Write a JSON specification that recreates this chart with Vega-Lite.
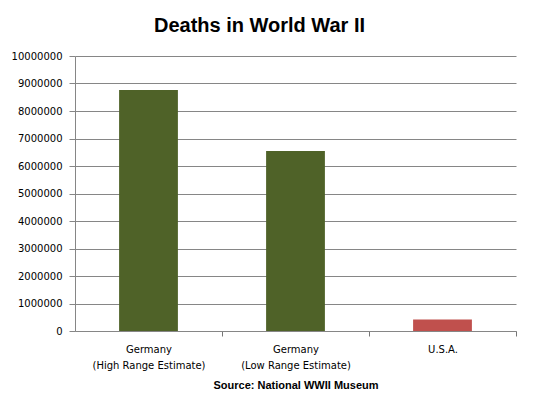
{
  "$schema": "https://vega.github.io/schema/vega-lite/v6.json",
  "autosize": "none",
  "width": 441,
  "height": 275,
  "padding": {"left": 75, "top": 56, "right": 17, "bottom": 81},
  "background": "white",
  "title": {
    "text": "Deaths in World War II",
    "font": "Liberation Sans",
    "fontSize": 20,
    "fontWeight": "bold",
    "color": "black",
    "anchor": "middle",
    "dx": -36,
    "offset": 15
  },
  "data": {
    "values": [
      {"country": "Germany|(High Range Estimate)", "deaths": 8760000, "group": "Germany"},
      {"country": "Germany|(Low Range Estimate)", "deaths": 6550000, "group": "Germany"},
      {"country": "U.S.A.", "deaths": 418500, "group": "U.S.A."}
    ]
  },
  "mark": "bar",
  "encoding": {
    "x": {
      "field": "country",
      "type": "nominal",
      "sort": null,
      "scale": {"paddingInner": 0.6, "paddingOuter": 0.3},
      "axis": {
        "title": "Source: National WWII Museum",
        "titleFont": "Liberation Sans",
        "titleFontSize": 11,
        "titleFontWeight": "bold",
        "titleColor": "black",
        "titlePadding": 9,
        "labelAngle": 0,
        "labelExpr": "split(datum.label, '|')",
        "labelFont": "DejaVu Sans",
        "labelFontSize": 10,
        "labelColor": "black",
        "labelLineHeight": 16.5,
        "labelPadding": 8,
        "tickOffset": 73.5,
        "labelOffset": -73.5,
        "tickSize": 5,
        "tickWidth": 1,
        "tickColor": "#767676",
        "domainColor": "#868686",
        "grid": false
      }
    },
    "y": {
      "field": "deaths",
      "type": "quantitative",
      "scale": {"domain": [0, 10000000]},
      "axis": {
        "title": null,
        "values": [0, 1000000, 2000000, 3000000, 4000000, 5000000, 6000000, 7000000, 8000000, 9000000, 10000000],
        "format": "d",
        "labelFont": "DejaVu Sans",
        "labelFontSize": 10,
        "labelColor": "black",
        "labelPadding": 7,
        "tickSize": 6,
        "tickColor": "#868686",
        "domainColor": "#868686",
        "grid": true,
        "gridColor": "#868686"
      }
    },
    "color": {
      "field": "group",
      "type": "nominal",
      "scale": {"domain": ["Germany", "U.S.A."], "range": ["#4f6228", "#c0504d"]},
      "legend": null
    }
  },
  "config": {
    "view": {"stroke": null},
    "axis": {"gridOpacity": 1, "domainWidth": 1, "gridWidth": 1}
  }
}
